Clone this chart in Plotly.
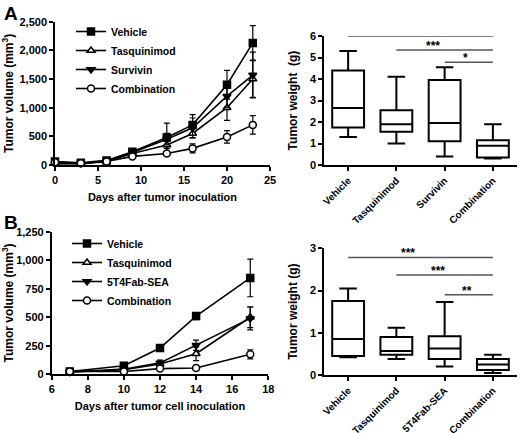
import plotly.graph_objects as go

FONT = "Liberation Sans"

# ---------- Panel A: tumor growth ----------
days_a = [0, 3, 6, 9, 13, 16, 20, 23]
veh_a = [60, 40, 80, 230, 480, 700, 1400, 2130]
veh_a_err = [20, 10, 15, 30, 250, 180, 250, 300]
tas_a = [30, 20, 60, 200, 350, 550, 1000, 1500]
tas_a_err = [10, 10, 15, 30, 60, 80, 220, 320]
sur_a = [20, 30, 70, 220, 450, 650, 1200, 1570]
sur_a_err = [10, 10, 15, 30, 100, 170, 200, 400]
com_a = [50, 30, 60, 150, 200, 290, 490, 700]
com_a_err = [10, 10, 10, 20, 30, 80, 110, 160]

# ---------- Panel A: tumor weight ----------
cats_a = ["Vehicle", "Tasquinimod", "Survivin", "Combination"]
lo_a = [1.3, 1.0, 0.4, 0.3]
q1_a = [1.75, 1.55, 1.1, 0.35]
med_a = [2.65, 1.9, 1.95, 0.9]
q3_a = [4.4, 2.55, 3.95, 1.15]
hi_a = [5.3, 4.1, 4.55, 1.9]
sig_a = [("Vehicle", 6.0, "***", 1.03), ("Tasquinimod", 5.35, "***", 1.76), ("Survivin", 4.78, "*", 2.44)]

# ---------- Panel B: tumor growth ----------
days_b = [7, 10, 12, 14, 17]
veh_b = [25, 75, 230, 510, 845]
veh_b_err = [5, 10, 20, 30, 165]
tas_b = [20, 40, 90, 180, 500]
tas_b_err = [5, 8, 20, 60, 90]
fab_b = [20, 45, 100, 255, 490]
fab_b_err = [5, 8, 25, 45, 100]
com_b = [25, 25, 50, 55, 175]
com_b_err = [5, 5, 10, 10, 40]

# ---------- Panel B: tumor weight ----------
cats_b = ["Vehicle", "Tasquinimod", "5T4Fab-SEA", "Combination"]
lo_b = [0.42, 0.38, 0.2, 0.05]
q1_b = [0.45, 0.48, 0.38, 0.12]
med_b = [0.85, 0.57, 0.63, 0.25]
q3_b = [1.75, 0.9, 0.92, 0.38]
hi_b = [2.05, 1.12, 1.73, 0.48]
sig_b = [("Vehicle", 2.78, "***", 1.24), ("Tasquinimod", 2.37, "***", 1.86), ("5T4Fab-SEA", 1.9, "**", 2.46)]

fig = go.Figure()

styles = [
    dict(symbol="square", fill="black"),
    dict(symbol="triangle-up", fill="white"),
    dict(symbol="triangle-down", fill="black"),
    dict(symbol="circle", fill="white"),
]


def add_growth(days, series, names, xa, ya, legend):
    for (vals, errs), name, st in zip(series, names, styles):
        fig.add_trace(go.Scatter(
            x=days, y=vals, name=f"<b>{name}</b>", mode="lines+markers",
            xaxis=xa, yaxis=ya, legend=legend, cliponaxis=False,
            line=dict(color="black", width=1.6),
            marker=dict(symbol=st["symbol"], size=7, color=st["fill"],
                        line=dict(color="black", width=1.5)),
            error_y=dict(type="data", array=errs, color="black", thickness=1.2, width=3),
        ))


add_growth(days_a, [(veh_a, veh_a_err), (tas_a, tas_a_err), (sur_a, sur_a_err), (com_a, com_a_err)],
           ["Vehicle", "Tasquinimod", "Survivin", "Combination"], "x", "y", "legend")
add_growth(days_b, [(veh_b, veh_b_err), (tas_b, tas_b_err), (fab_b, fab_b_err), (com_b, com_b_err)],
           ["Vehicle", "Tasquinimod", "5T4Fab-SEA", "Combination"], "x3", "y3", "legend2")


def add_boxes(cats, lo, q1, med, q3, hi, xa, ya):
    fig.add_trace(go.Box(
        x=cats, lowerfence=lo, q1=q1, median=med, q3=q3, upperfence=hi,
        xaxis=xa, yaxis=ya, showlegend=False, fillcolor="white",
        line=dict(color="black", width=2), width=0.66, whiskerwidth=0.55,
    ))


add_boxes(cats_a, lo_a, q1_a, med_a, q3_a, hi_a, "x2", "y2")
add_boxes(cats_b, lo_b, q1_b, med_b, q3_b, hi_b, "x4", "y4")


def add_sig(sigs, xa, ya, dy):
    for start, yv, txt, tx in sigs:
        fig.add_shape(type="line", xref=xa, yref=ya, x0=start, x1="Combination", y0=yv, y1=yv,
                      line=dict(color="#555555", width=1.5))
        fig.add_annotation(xref=xa, yref=ya, x=tx, y=yv + dy, text=txt, showarrow=False,
                           font=dict(family=FONT, size=12, color="black", weight="bold"), yanchor="middle")


add_sig(sig_a, "x2", "y2", 0.2)
add_sig(sig_b, "x4", "y4", 0.1)

BOLD11 = dict(family=FONT, size=11, color="black", weight="bold")
BOLD10 = dict(family=FONT, size=10.5, color="black", weight="bold")
CAT_FONT = dict(family=FONT, size=10, color="black", weight="bold")
axis_common = dict(showline=True, linecolor="black", linewidth=1.6, ticks="outside",
                   ticklen=4, tickwidth=1.5, tickcolor="black", showgrid=False, zeroline=False,
                   automargin=False, tickfont=BOLD11, title_font=BOLD11)
cat_common = {**axis_common, "tickfont": CAT_FONT}
ytitle_font = dict(family=FONT, size=12, color="black", weight="bold")

W, H = 520, 433


def xd(a, b):
    return [a / W, b / W]


def yd(top, bottom):
    return [1 - bottom / H, 1 - top / H]


fig.update_layout(
    width=W, height=H, margin=dict(l=0, r=0, t=0, b=0, autoexpand=False),
    paper_bgcolor="white", plot_bgcolor="white",
    font=dict(family=FONT, size=11, color="black"),
    xaxis=dict(domain=xd(55, 270), anchor="y", range=[0, 25], tickvals=[0, 5, 10, 15, 20, 25],
               title=dict(text="Days after tumor inoculation", standoff=8), **axis_common),
    yaxis=dict(domain=yd(21.7, 165), anchor="x", range=[0, 2500], tickvals=[0, 500, 1000, 1500, 2000, 2500],
               tickformat=",", title=dict(text="Tumor volume (mm<sup>3</sup>)", standoff=8),
               **axis_common),
    xaxis2=dict(domain=xd(324, 517), anchor="y2", range=[-0.5, 3.5], tickangle=-45, **cat_common),
    yaxis2=dict(domain=yd(36, 165), anchor="x2", range=[0, 6], tickvals=[0, 1, 2, 3, 4, 5, 6],
                title=dict(text="Tumor weight  (g)", standoff=10), **axis_common),
    xaxis3=dict(domain=xd(51.7, 268.3), anchor="y3", range=[6, 18], tickvals=[6, 8, 10, 12, 14, 16, 18],
                title=dict(text="Days after tumor cell inoculation", standoff=8), **axis_common),
    yaxis3=dict(domain=yd(231.7, 374.3), anchor="x3", range=[0, 1250], tickvals=[0, 250, 500, 750, 1000, 1250],
                tickformat=",", title=dict(text="Tumor volume (mm<sup>3</sup>)", standoff=8),
                **axis_common),
    xaxis4=dict(domain=xd(324, 517), anchor="y4", range=[-0.5, 3.5], tickangle=-45, **cat_common),
    yaxis4=dict(domain=yd(248.3, 375), anchor="x4", range=[0, 3], tickvals=[0, 1, 2, 3],
                title=dict(text="Tumor weight (g)", standoff=10), **axis_common),
    legend=dict(x=71 / W, y=1 - 17 / H, xanchor="left", yanchor="top", bgcolor="rgba(0,0,0,0)",
                font=BOLD10, tracegroupgap=0),
    legend2=dict(x=67 / W, y=1 - 229 / H, xanchor="left", yanchor="top", bgcolor="rgba(0,0,0,0)",
                 font=BOLD10, tracegroupgap=0),
)
for ax in ["yaxis", "yaxis2", "yaxis3", "yaxis4"]:
    fig.layout[ax].title.font = ytitle_font

fig.add_annotation(xref="paper", yref="paper", x=11 / W, y=1 - 13 / H, text="A", showarrow=False,
                   xanchor="center", yanchor="middle",
                   font=dict(family=FONT, size=19, color="black", weight="bold"))
fig.add_annotation(xref="paper", yref="paper", x=11 / W, y=1 - 222 / H, text="B", showarrow=False,
                   xanchor="center", yanchor="middle",
                   font=dict(family=FONT, size=19, color="black", weight="bold"))

fig.write_html("out.html", config={"displayModeBar": False},
               post_script="document.body.style.margin='0';")
